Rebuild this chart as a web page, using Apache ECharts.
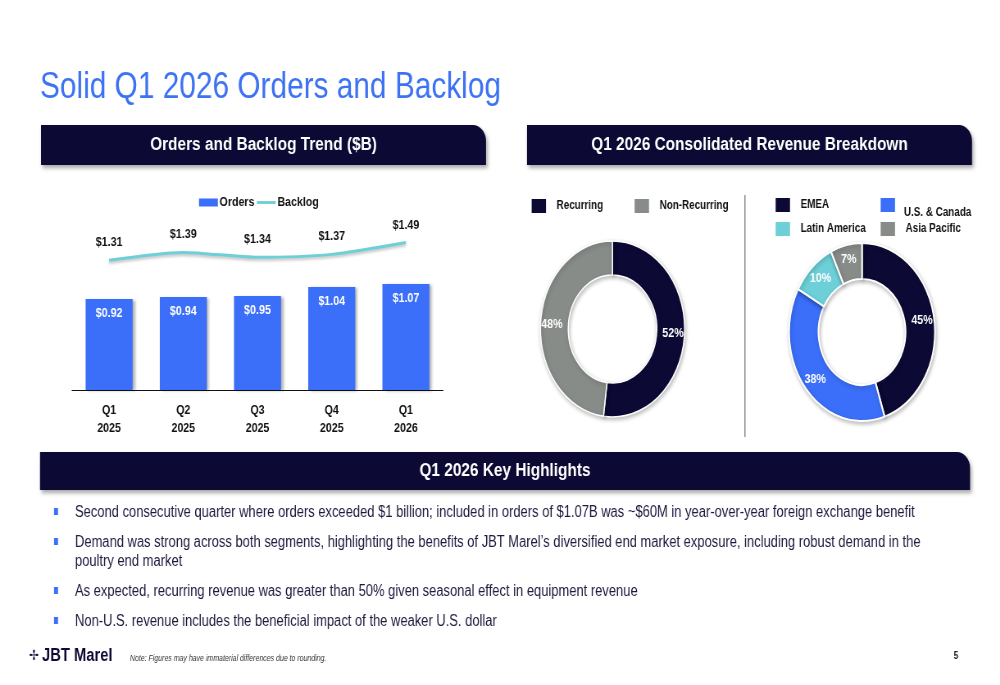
<!DOCTYPE html>
<html><head><meta charset="utf-8">
<script src="https://cdn.jsdelivr.net/npm/echarts@6/dist/echarts.min.js"></script>
<style>
html,body{margin:0;padding:0;background:#fff;overflow:hidden;}
/* The slide is drawn 1220px wide and compressed to 1000px, like the reference's condensed look */
#main{position:absolute;left:0;top:0;width:1220px;height:685px;transform-origin:0 0;transform:scaleX(0.8197);}
</style></head><body>
<div id="main"></div>
<script>
// ---- data ----
const categories = ['Q1\n2025', 'Q2\n2025', 'Q3\n2025', 'Q4\n2025', 'Q1\n2026'];
const orders = [0.92, 0.94, 0.95, 1.04, 1.07];
const backlog = [1.31, 1.39, 1.34, 1.37, 1.49];
const mixNames = ['Recurring', 'Non-Recurring'];
const mixValues = [52, 48];
const regionNames = ['EMEA', 'U.S. & Canada', 'Latin America', 'Asia Pacific'];
const regionValues = [45, 38, 10, 7];
const bullets = [
  'Second consecutive quarter where orders exceeded $1 billion; included in orders of $1.07B was ~$60M in year-over-year foreign exchange benefit',
  'Demand was strong across both segments, highlighting the benefits of JBT Marel\u2019s diversified end market exposure, including robust demand in the\npoultry end market',
  'As expected, recurring revenue was greater than 50% given seasonal effect in equipment revenue',
  'Non-U.S. revenue includes the beneficial impact of the weaker U.S. dollar'
];

// ---- styles ----
const K = 0.8197; // horizontal compression
const X = v => v / K; // screen x -> drawing x
const NAVY = '#0C0A35', BLUE = '#3B6FF9', TEAL = '#6DCFD7', GREY = '#878C89';
const FONT = "'Liberation Sans', Arial, sans-serif";

function header(x, y, w, h, text) {
  return [
    { type: 'rect', shape: { x: X(x), y: y, width: X(w), height: h, r: [0, 16, 0, 0] },
      style: { fill: NAVY, shadowBlur: 4, shadowOffsetX: 2, shadowOffsetY: 3, shadowColor: 'rgba(0,0,0,0.35)' } },
    { type: 'text', x: X(x + w / 2), y: y + h / 2,
      style: { text: text, fill: '#fff', font: 'bold 18.8px ' + FONT, align: 'center', verticalAlign: 'middle' } }
  ];
}

const graphics = [];
graphics.push({ type: 'text', x: X(40), y: 88, style: { text: 'Solid Q1 2026 Orders and Backlog', fill: '#3D73F3', font: '36.4px ' + FONT, align: 'left', verticalAlign: 'middle' } });
graphics.push(...header(41, 125, 445, 40, 'Orders and Backlog Trend ($B)'));
graphics.push(...header(527, 125, 445, 40, 'Q1 2026 Consolidated Revenue Breakdown'));
graphics.push(...header(40, 452, 930, 38, 'Q1 2026 Key Highlights'));
graphics.push({ type: 'line', shape: { x1: X(745), y1: 195, x2: X(745), y2: 437 }, style: { stroke: '#555', lineWidth: 1 } });
const bulletY = [512, 542, 591, 621];
bullets.forEach((t, i) => {
  graphics.push({ type: 'rect', shape: { x: X(54), y: bulletY[i] - 4, width: X(4), height: 7 }, style: { fill: BLUE } });
  graphics.push({ type: 'text', x: X(75), y: bulletY[i] - 9, style: { text: t, fill: '#1C1B3E', font: '15.8px ' + FONT, align: 'left', verticalAlign: 'top', lineHeight: 19 } });
});
graphics.push({ type: 'text', x: X(29), y: 656, style: { text: '\u2722', fill: NAVY, font: 'bold 14px DejaVu Sans', align: 'left', verticalAlign: 'middle' } });
graphics.push({ type: 'text', x: X(42), y: 656, style: { text: 'JBT Marel', fill: NAVY, font: 'bold 18px ' + FONT, align: 'left', verticalAlign: 'middle' } });
graphics.push({ type: 'text', x: X(130), y: 659, style: { text: 'Note: Figures may have immaterial differences due to rounding.', fill: '#333', font: 'italic 8.5px ' + FONT, align: 'left', verticalAlign: 'middle' } });
graphics.push({ type: 'text', x: X(956), y: 656, style: { text: '5', fill: '#222', font: 'bold 10px ' + FONT, align: 'center', verticalAlign: 'middle' } });

const legendText = { fontFamily: FONT, fontWeight: 'bold', fontSize: 12, color: '#111', padding: [0, 0, 0, 7] };
const regionColors = [NAVY, BLUE, TEAL, GREY];
const pieCommon = {
  type: 'pie', startAngle: 90, clockwise: true,
  label: { show: true, position: 'inside', formatter: '{c}%', color: '#fff', fontFamily: FONT, fontWeight: 'bold', fontSize: 13 },
  labelLine: { show: false }, emphasis: { disabled: true }
};
const sq = { padding: 0, itemWidth: X(16), itemHeight: 16, icon: 'rect' };

const main = echarts.init(document.getElementById('main'), null, { renderer: 'canvas' });
main.setOption({
  animation: false,
  backgroundColor: '#fff',
  textStyle: { fontFamily: FONT },
  legend: [
    { left: X(199), top: 196, padding: 0, itemGap: 3, itemWidth: 23, itemHeight: 8,
      data: [{ name: 'Orders', icon: 'rect' }, { name: 'Backlog', icon: 'path://M0,0H24V3H0Z' }],
      textStyle: { fontFamily: FONT, fontWeight: 'bold', fontSize: 13, color: '#111', padding: [0, 0, 0, -3] } },
    Object.assign({ data: [mixNames[0]], left: X(530), top: 197, textStyle: legendText }, sq),
    Object.assign({ data: [mixNames[1]], left: X(633), top: 197, textStyle: legendText }, sq),
    Object.assign({ data: [regionNames[0]], left: X(774), top: 196, textStyle: legendText }, sq),
    Object.assign({ data: [regionNames[2]], left: X(774), top: 220, textStyle: legendText }, sq),
    Object.assign({ data: [regionNames[1]], left: X(879), top: 196, formatter: n => '{low|' + n + '}',
      textStyle: Object.assign({}, legendText, { padding: [0, 0, 0, 5], rich: { low: { fontFamily: FONT, fontWeight: 'bold', fontSize: 12, color: '#111', padding: [16, 0, 0, 0] } } }) }, sq),
    Object.assign({ data: [regionNames[3]], left: X(879), top: 220, textStyle: Object.assign({}, legendText, { padding: [0, 0, 0, 7] }) }, sq)
  ],
  grid: { left: X(72), width: X(371), top: 192, bottom: 295, containLabel: false },
  xAxis: {
    type: 'category', data: categories,
    axisLine: { lineStyle: { color: '#111', width: 1 } },
    axisTick: { show: false },
    axisLabel: { color: '#111', fontWeight: 'bold', fontSize: 13, lineHeight: 18, margin: 11, fontFamily: FONT }
  },
  yAxis: { type: 'value', min: 0, max: 2, show: false, splitLine: { show: false } },
  series: [
    { name: 'Orders', type: 'bar', data: orders, barWidth: X(47),
      itemStyle: { color: BLUE, shadowColor: 'rgba(0,0,0,0.3)', shadowBlur: 3, shadowOffsetX: 3, shadowOffsetY: 1 },
      label: { show: true, position: 'insideTop', distance: 8, color: '#fff', fontWeight: 'bold', fontSize: 13, fontFamily: FONT, formatter: p => '$' + p.value.toFixed(2) } },
    { name: 'Backlog', type: 'line', data: backlog, symbol: 'circle', symbolSize: 0.1, showSymbol: true, smooth: 0.25,
      lineStyle: { color: TEAL, width: 3, shadowColor: 'rgba(0,0,0,0.25)', shadowBlur: 3, shadowOffsetY: 2 },
      itemStyle: { color: TEAL },
      label: { show: true, position: 'top', distance: 11, color: '#111', fontWeight: 'bold', fontSize: 13, fontFamily: FONT, formatter: p => '$' + p.value.toFixed(2) } },
    Object.assign({}, pieCommon, {
      name: 'Revenue mix', center: [X(612.5), 329], radius: [54, 88],
      data: mixNames.map((n, i) => ({ name: n, value: mixValues[i], itemStyle: { color: [NAVY, GREY][i] } })),
      itemStyle: { borderColor: '#fff', borderWidth: 1.5, shadowColor: 'rgba(0,0,0,0.25)', shadowBlur: 4, shadowOffsetX: 1, shadowOffsetY: 2 }
    }),
    Object.assign({}, pieCommon, {
      name: 'Revenue by region', center: [X(862), 332], radius: [53, 89],
      data: regionNames.map((n, i) => ({ name: n, value: regionValues[i], itemStyle: { color: regionColors[i] } })),
      itemStyle: { borderColor: '#fff', borderWidth: 2, shadowColor: 'rgba(0,0,0,0.25)', shadowBlur: 4, shadowOffsetX: 1, shadowOffsetY: 2 }
    })
  ],
  graphic: graphics
});
</script></body></html>
